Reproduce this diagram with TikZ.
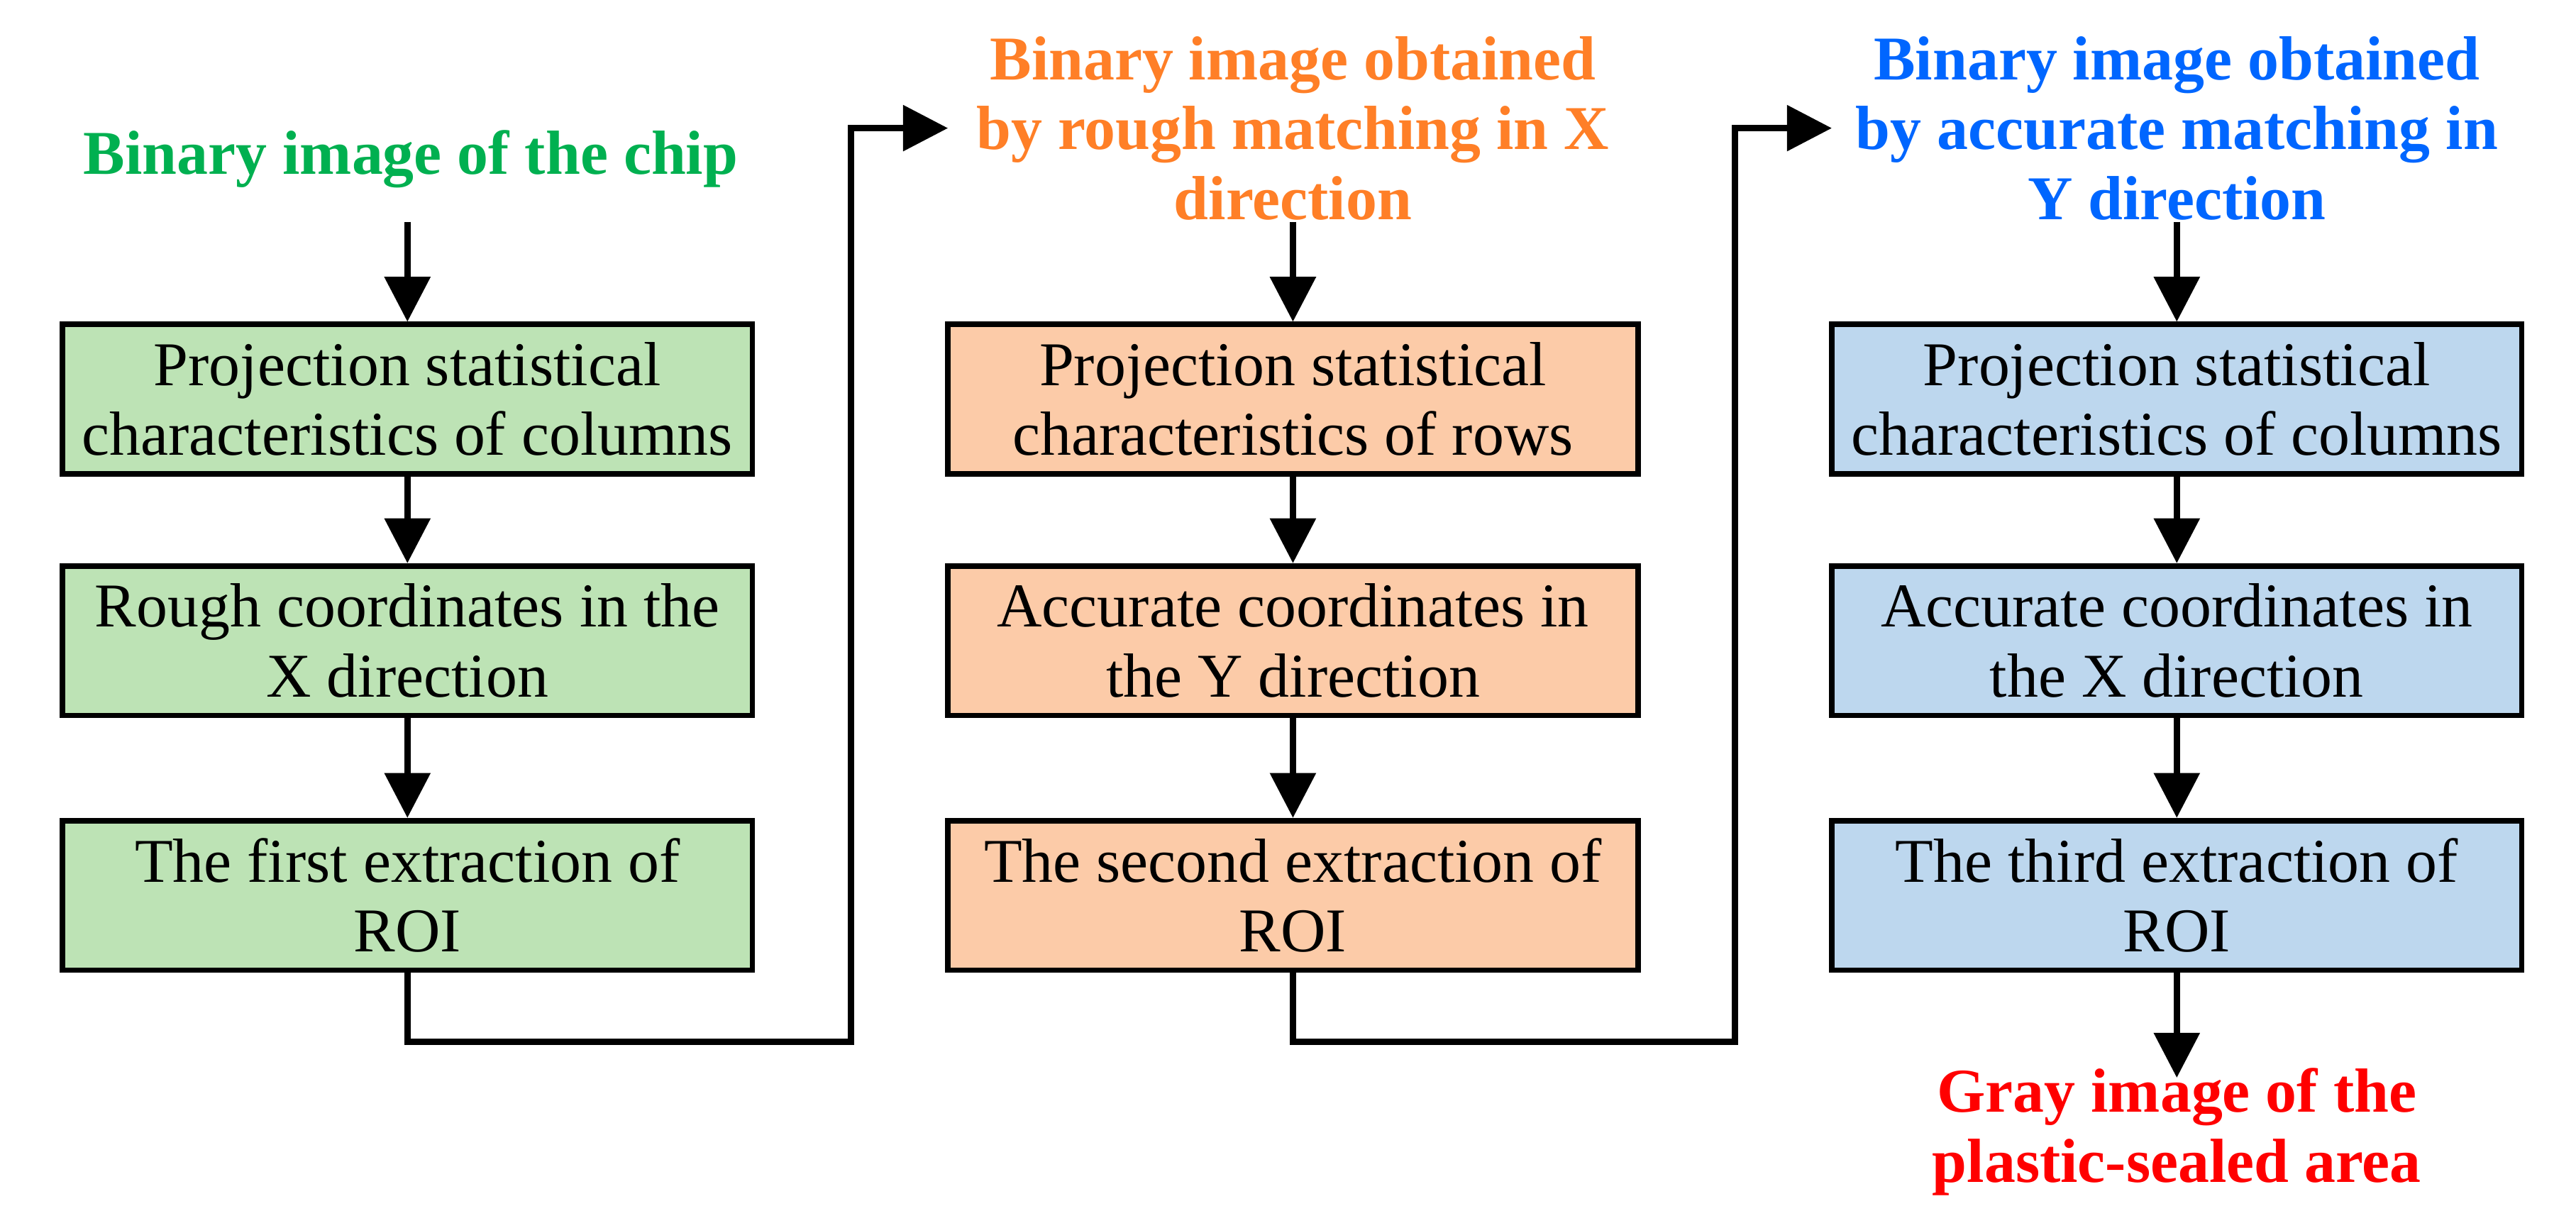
\documentclass[tikz,border=0pt]{standalone}
\usepackage{fontspec}
\setmainfont{Liberation Serif}
\usetikzlibrary{arrows.meta}
\definecolor{gfill}{HTML}{BDE3B5}
\definecolor{ofill}{HTML}{FCCBA8}
\definecolor{bfill}{HTML}{BDD7EE}
\definecolor{gtxt}{HTML}{00B050}
\definecolor{otxt}{HTML}{FF7F27}
\definecolor{btxt}{HTML}{0066FF}
\begin{document}
\begin{tikzpicture}[x=0.02316cm,y=-0.02316cm,
  box/.style={draw=black,line width=2.2pt,minimum width=420*0.02316cm,minimum height=91*0.02316cm,inner sep=0pt,align=center,font=\fontsize{25}{28}\selectfont},
  ttl/.style={align=center,font=\fontsize{25}{28}\selectfont\bfseries,inner sep=0pt},
  arr/.style={line width=2.5pt,-{Triangle[length=18pt,width=18pt]}}]
\useasboundingbox (0,0) rectangle (1568,737);
% green column
\node[ttl,text=gtxt] (gt) at (250,97) {Binary image of the chip};
\coordinate (gs) at (248,135);
\node[box,fill=gfill] (g1) at (248,243) {Projection statistical\\characteristics of columns};
\node[box,fill=gfill] (g2) at (248,390) {Rough coordinates in the\\X direction};
\node[box,fill=gfill] (g3) at (248,545) {The first extraction of\\ROI};
% orange column
\node[ttl,text=otxt] (ot) at (787,78) {Binary image obtained\\by rough matching in X\\direction};
\coordinate (os) at (787,135);
\node[box,fill=ofill] (o1) at (787,243) {Projection statistical\\characteristics of rows};
\node[box,fill=ofill] (o2) at (787,390) {Accurate coordinates in\\the Y direction};
\node[box,fill=ofill] (o3) at (787,545) {The second extraction of\\ROI};
% blue column
\node[ttl,text=btxt] (bt) at (1325,78) {Binary image obtained\\by accurate matching in\\Y direction};
\coordinate (bs) at (1325,135);
\node[box,fill=bfill] (b1) at (1325,243) {Projection statistical\\characteristics of columns};
\node[box,fill=bfill] (b2) at (1325,390) {Accurate coordinates in\\the X direction};
\node[box,fill=bfill] (b3) at (1325,545) {The third extraction of\\ROI};
\node[ttl,text=red] (rt) at (1325,689) {Gray image of the\\plastic-sealed area};
\coordinate (re) at (1325,656);
\coordinate (oe) at (577,78);
\coordinate (be) at (1115,78);
% arrows
\draw[arr] (gs) -- (g1.north);
\draw[arr] (g1) -- (g2);
\draw[arr] (g2) -- (g3);
\draw[arr] (os) -- (o1.north);
\draw[arr] (o1) -- (o2);
\draw[arr] (o2) -- (o3);
\draw[arr] (bs) -- (b1.north);
\draw[arr] (b1) -- (b2);
\draw[arr] (b2) -- (b3);
\draw[arr] (b3) -- (re);
\draw[arr] (g3.south) -- (248,634) -- (518,634) -- (518,78) -- (oe);
\draw[arr] (o3.south) -- (787,634) -- (1056,634) -- (1056,78) -- (be);
\end{tikzpicture}
\end{document}
